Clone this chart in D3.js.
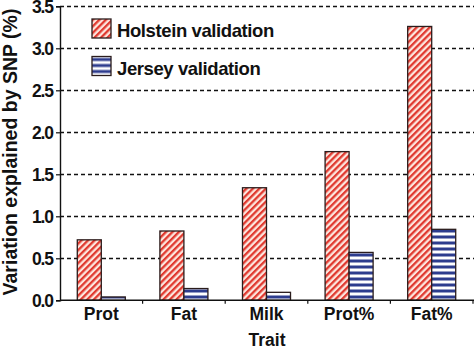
<!DOCTYPE html>
<html>
<head>
<meta charset="utf-8">
<script src="https://cdn.jsdelivr.net/npm/d3@7"></script>
<style>
  body { margin: 0; background: #fff; }
  svg text { font-family: "Liberation Sans", Arial, sans-serif; font-weight: bold; fill: #111; }
</style>
</head>
<body>
<div class="vis-bars"></div>
<script>
const traits = ["Prot", "Fat", "Milk", "Prot%", "Fat%"];
const series = ["Holstein validation", "Jersey validation"];
const holstein = [0.72, 0.825, 1.34, 1.77, 3.26];
const jersey = [0.04, 0.14, 0.095, 0.57, 0.845];
const yTicks = [0.0, 0.5, 1.0, 1.5, 2.0, 2.5, 3.0, 3.5];

const width = 474, height = 350;
const margin = { top: 6.3, right: 1, bottom: 49.7, left: 60 };

const svg = d3.select(".vis-bars").append("svg")
    .attr("width", width)
    .attr("height", height);

// fill patterns
const defs = svg.append("defs");
const pHol = defs.append("pattern")
    .attr("id", "hol")
    .attr("patternUnits", "userSpaceOnUse")
    .attr("width", 4.6).attr("height", 4.6)
    .attr("patternTransform", "rotate(45)");
pHol.append("rect").attr("width", 4.6).attr("height", 4.6).attr("fill", "#fde6de");
pHol.append("rect").attr("width", 2.3).attr("height", 4.6).attr("fill", "#e0392f");

const pJer = defs.append("pattern")
    .attr("id", "jer")
    .attr("patternUnits", "userSpaceOnUse")
    .attr("width", 6).attr("height", 6);
pJer.append("rect").attr("width", 6).attr("height", 6).attr("fill", "#fff");
pJer.append("rect").attr("y", 1.5).attr("width", 6).attr("height", 3).attr("fill", "#2d3c8e");

const fills = ["url(#hol)", "url(#jer)"];

const x = d3.scaleBand()
    .domain(traits)
    .range([margin.left, width - margin.right])
    .paddingInner(0).paddingOuter(0);

const x1 = d3.scaleBand()
    .domain(series)
    .range([0, x.bandwidth()])
    .paddingInner(0).paddingOuter(0.72);

const y = d3.scaleLinear()
    .domain([0, 3.5])
    .range([height - margin.bottom, margin.top]);

// dashed grid
svg.append("g")
    .attr("class", "grid")
    .selectAll("line")
    .data(yTicks.slice(1))
    .join("line")
    .attr("x1", margin.left).attr("x2", width)
    .attr("y1", d => Math.round(y(d)) + 0.5).attr("y2", d => Math.round(y(d)) + 0.5)
    .attr("stroke", "#111")
    .attr("stroke-width", 1.4)
    .attr("stroke-dasharray", "4,3");

// bars
const rows = traits.map((t, i) => ({ trait: t, values: [holstein[i], jersey[i]] }));
svg.append("g")
    .selectAll("g")
    .data(rows)
    .join("g")
    .attr("transform", d => "translate(" + x(d.trait) + ",0)")
    .selectAll("rect")
    .data(d => d.values.map((v, j) => ({ s: series[j], v: v, j: j })))
    .join("rect")
    .attr("x", d => x1(d.s))
    .attr("width", x1.bandwidth())
    .attr("y", d => y(d.v))
    .attr("height", d => y(0) - y(d.v))
    .attr("fill", d => fills[d.j])
    .attr("stroke", "#2a1c1c")
    .attr("stroke-width", 1.3);

// y axis
const yAxis = svg.append("g")
    .attr("transform", "translate(" + margin.left + ",0)")
    .call(d3.axisLeft(y).tickValues(yTicks).tickFormat(d3.format(".1f")).tickSize(4).tickPadding(3));
yAxis.select(".domain").attr("stroke", "#111").attr("stroke-width", 1.4);
yAxis.selectAll(".tick line").attr("stroke", "#111").attr("stroke-width", 1.2);
yAxis.selectAll("text")
    .attr("dy", "0.36em")
    .style("font-size", "17.5px")
    .style("letter-spacing", "-1.1px")
    .style("font-family", "Liberation Sans, Arial, sans-serif")
    .style("font-weight", "bold")
    .attr("fill", "#111");

// x axis
const xAxis = svg.append("g")
    .attr("transform", "translate(0," + y(0) + ")")
    .call(d3.axisBottom(x).tickSize(0).tickPadding(7));
xAxis.select(".domain").attr("d", "M" + margin.left + ",0H" + width)
    .attr("stroke", "#111").attr("stroke-width", 1.4);
xAxis.selectAll("text")
    .attr("dy", "0.71em")
    .style("font-size", "17.5px")
    .style("font-family", "Liberation Sans, Arial, sans-serif")
    .style("font-weight", "bold")
    .attr("fill", "#111");
xAxis.selectAll(".sep")
    .data(traits)
    .join("line")
    .attr("class", "sep")
    .attr("x1", d => x(d) + x.bandwidth()).attr("x2", d => x(d) + x.bandwidth())
    .attr("y1", 0).attr("y2", 3.5)
    .attr("stroke", "#111").attr("stroke-width", 1.2);

// axis titles
svg.append("text")
    .attr("x", 267).attr("y", 346)
    .attr("text-anchor", "middle")
    .style("font-size", "17.5px")
    .text("Trait");

svg.append("text")
    .attr("transform", "translate(16.5,152) rotate(-90)")
    .attr("text-anchor", "middle")
    .style("font-size", "19.5px")
    .text("Variation explained by SNP (%)");

// legend
const legend = svg.append("g")
    .selectAll("g")
    .data(series)
    .join("g")
    .attr("transform", (d, i) => "translate(92," + (19 + i * 37.5) + ")");
legend.append("rect")
    .attr("width", 19).attr("height", 19)
    .attr("fill", (d, i) => fills[i])
    .attr("stroke", "#2a1c1c")
    .attr("stroke-width", 1.3);
legend.append("text")
    .attr("x", 25).attr("y", 18)
    .style("font-size", "18.5px")
    .style("letter-spacing", "-0.4px")
    .text(d => d);
</script>
</body>
</html>
